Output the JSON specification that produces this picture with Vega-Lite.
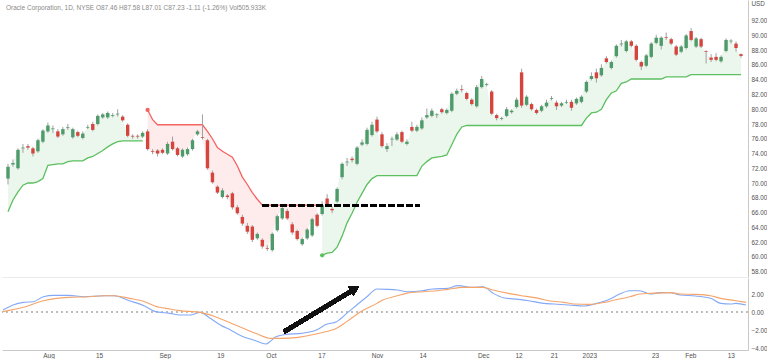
{
  "$schema": "https://vega.github.io/schema/vega-lite/v6.json",
  "padding": 0,
  "background": "white",
  "spacing": 1,
  "resolve": {"scale": {"color": "independent"}},
  "config": {
    "view": {"stroke": null},
    "font": "Liberation Sans",
    "axis": {"labelFont": "Liberation Sans", "labelFontSize": 6.5, "labelColor": "#505050", "grid": false, "ticks": false, "title": null, "domainColor": "#c9c9c9", "labelOverlap": false}
  },
  "datasets": {
    "candles": [
      {"n":1,"o":70.6,"h":72.6,"l":69.8,"c":72.2,"st":66.1,"tr":"up","seg":1},
      {"n":2,"o":72.5,"h":73.2,"l":72.2,"c":72.7,"st":67.7,"tr":"up","seg":1},
      {"n":3,"o":72.0,"h":74.7,"l":71.8,"c":74.5,"st":68.8,"tr":"up","seg":1},
      {"n":4,"o":74.7,"h":75.3,"l":74.1,"c":74.8,"st":69.7,"tr":"up","seg":1},
      {"n":5,"o":75.0,"h":75.3,"l":74.5,"c":74.8,"st":70.0,"tr":"up","seg":1},
      {"n":6,"o":74.7,"h":74.9,"l":73.6,"c":74.0,"st":70.0,"tr":"up","seg":1},
      {"n":7,"o":74.3,"h":76.0,"l":74.1,"c":75.8,"st":70.2,"tr":"up","seg":1},
      {"n":8,"o":75.6,"h":77.3,"l":75.4,"c":77.1,"st":70.6,"tr":"up","seg":1},
      {"n":9,"o":77.0,"h":78.2,"l":76.8,"c":77.8,"st":72.4,"tr":"up","seg":1},
      {"n":10,"o":77.3,"h":77.8,"l":76.8,"c":77.4,"st":72.5,"tr":"up","seg":1},
      {"n":11,"o":77.0,"h":77.3,"l":76.1,"c":76.3,"st":72.6,"tr":"up","seg":1},
      {"n":12,"o":76.6,"h":77.6,"l":76.4,"c":77.3,"st":72.6,"tr":"up","seg":1},
      {"n":13,"o":77.5,"h":78.0,"l":77.2,"c":77.6,"st":72.9,"tr":"up","seg":1},
      {"n":14,"o":76.2,"h":77.5,"l":76.0,"c":77.3,"st":73.0,"tr":"up","seg":1},
      {"n":15,"o":76.9,"h":77.1,"l":76.2,"c":76.4,"st":73.0,"tr":"up","seg":1},
      {"n":16,"o":76.1,"h":77.0,"l":75.9,"c":76.7,"st":73.0,"tr":"up","seg":1},
      {"n":17,"o":77.5,"h":77.9,"l":77.3,"c":77.6,"st":73.4,"tr":"up","seg":1},
      {"n":18,"o":78.0,"h":78.3,"l":77.0,"c":77.2,"st":73.6,"tr":"up","seg":1},
      {"n":19,"o":78.0,"h":79.3,"l":77.8,"c":79.1,"st":74.0,"tr":"up","seg":1},
      {"n":20,"o":78.9,"h":79.5,"l":78.7,"c":79.3,"st":74.4,"tr":"up","seg":1},
      {"n":21,"o":78.9,"h":79.7,"l":78.7,"c":79.5,"st":74.9,"tr":"up","seg":1},
      {"n":22,"o":79.1,"h":79.5,"l":78.9,"c":79.2,"st":75.3,"tr":"up","seg":1},
      {"n":23,"o":79.3,"h":80.0,"l":79.0,"c":79.4,"st":75.6,"tr":"up","seg":1},
      {"n":24,"o":79.0,"h":79.2,"l":78.3,"c":78.5,"st":75.7,"tr":"up","seg":1},
      {"n":25,"o":77.9,"h":78.1,"l":76.2,"c":76.4,"st":75.7,"tr":"up","seg":1},
      {"n":26,"o":76.4,"h":76.6,"l":76.0,"c":76.3,"st":75.7,"tr":"up","seg":1},
      {"n":27,"o":76.4,"h":76.6,"l":76.0,"c":76.3,"st":75.7,"tr":"up","seg":1},
      {"n":28,"o":76.3,"h":77.0,"l":76.1,"c":76.8,"st":75.7,"tr":"up","seg":1},
      {"n":29,"o":77.0,"h":77.3,"l":74.4,"c":74.6,"st":79.9,"tr":"down","seg":2,"start":1},
      {"n":30,"o":74.3,"h":74.6,"l":73.9,"c":74.2,"st":78.6,"tr":"down","seg":2},
      {"n":31,"o":74.4,"h":74.6,"l":73.6,"c":74.0,"st":77.9,"tr":"down","seg":2},
      {"n":32,"o":74.5,"h":74.7,"l":73.9,"c":74.1,"st":77.9,"tr":"down","seg":2},
      {"n":33,"o":74.0,"h":75.6,"l":73.8,"c":75.3,"st":77.9,"tr":"down","seg":2},
      {"n":34,"o":75.6,"h":76.3,"l":74.4,"c":74.6,"st":77.9,"tr":"down","seg":2},
      {"n":35,"o":74.7,"h":74.9,"l":73.6,"c":73.8,"st":77.9,"tr":"down","seg":2},
      {"n":36,"o":73.6,"h":74.7,"l":73.4,"c":74.5,"st":77.9,"tr":"down","seg":2},
      {"n":37,"o":73.9,"h":74.8,"l":73.7,"c":74.6,"st":77.9,"tr":"down","seg":2},
      {"n":38,"o":74.6,"h":76.0,"l":74.4,"c":75.8,"st":77.9,"tr":"down","seg":2},
      {"n":39,"o":76.6,"h":77.2,"l":76.4,"c":77.0,"st":77.9,"tr":"down","seg":2},
      {"n":40,"o":76.2,"h":79.3,"l":75.9,"c":76.1,"st":77.9,"tr":"down","seg":2},
      {"n":41,"o":75.8,"h":76.0,"l":71.8,"c":72.0,"st":77.0,"tr":"down","seg":2},
      {"n":42,"o":71.4,"h":71.7,"l":69.9,"c":70.1,"st":76.0,"tr":"down","seg":2},
      {"n":43,"o":69.5,"h":69.7,"l":68.5,"c":68.7,"st":74.8,"tr":"down","seg":2},
      {"n":44,"o":68.1,"h":69.3,"l":67.9,"c":69.0,"st":74.3,"tr":"down","seg":2},
      {"n":45,"o":68.3,"h":68.5,"l":67.8,"c":68.1,"st":73.9,"tr":"down","seg":2},
      {"n":46,"o":68.6,"h":68.8,"l":66.4,"c":66.7,"st":73.5,"tr":"down","seg":2},
      {"n":47,"o":66.7,"h":67.0,"l":65.7,"c":65.9,"st":72.3,"tr":"down","seg":2},
      {"n":48,"o":65.4,"h":65.7,"l":64.2,"c":64.5,"st":70.8,"tr":"down","seg":2},
      {"n":49,"o":64.2,"h":64.6,"l":63.1,"c":63.4,"st":69.8,"tr":"down","seg":2},
      {"n":50,"o":64.1,"h":64.3,"l":62.0,"c":62.3,"st":68.7,"tr":"down","seg":2},
      {"n":51,"o":62.5,"h":63.3,"l":62.3,"c":63.1,"st":67.8,"tr":"down","seg":2},
      {"n":52,"o":62.3,"h":62.5,"l":61.1,"c":61.4,"st":67.0,"tr":"down","seg":2},
      {"n":53,"o":61.2,"h":61.6,"l":60.8,"c":61.1,"st":67.0,"tr":"down","seg":2},
      {"n":54,"o":60.9,"h":63.3,"l":60.7,"c":63.1,"st":67.0,"tr":"down","seg":2},
      {"n":55,"o":63.6,"h":65.7,"l":63.4,"c":65.5,"st":67.0,"tr":"down","seg":2},
      {"n":56,"o":65.2,"h":66.9,"l":65.0,"c":66.6,"st":67.0,"tr":"down","seg":2},
      {"n":57,"o":66.2,"h":66.5,"l":65.0,"c":65.2,"st":67.0,"tr":"down","seg":2},
      {"n":58,"o":64.4,"h":64.7,"l":63.0,"c":63.3,"st":67.0,"tr":"down","seg":2},
      {"n":59,"o":63.5,"h":63.7,"l":62.2,"c":62.4,"st":67.0,"tr":"down","seg":2},
      {"n":60,"o":61.7,"h":62.6,"l":61.5,"c":62.4,"st":67.0,"tr":"down","seg":2},
      {"n":61,"o":62.5,"h":63.9,"l":62.3,"c":63.7,"st":67.0,"tr":"down","seg":2},
      {"n":62,"o":62.9,"h":65.3,"l":62.7,"c":65.1,"st":67.0,"tr":"down","seg":2},
      {"n":63,"o":65.7,"h":65.9,"l":64.0,"c":64.2,"st":67.0,"tr":"down","seg":2},
      {"n":64,"o":65.8,"h":67.5,"l":65.6,"c":67.0,"st":60.2,"tr":"up","seg":3,"start":1},
      {"n":65,"o":67.9,"h":68.5,"l":66.8,"c":67.0,"st":60.5,"tr":"up","seg":3},
      {"n":66,"o":66.5,"h":66.8,"l":65.9,"c":66.3,"st":60.6,"tr":"up","seg":3},
      {"n":67,"o":67.5,"h":69.4,"l":67.3,"c":69.2,"st":61.3,"tr":"up","seg":3},
      {"n":68,"o":70.8,"h":72.8,"l":70.5,"c":72.6,"st":62.8,"tr":"up","seg":3},
      {"n":69,"o":72.8,"h":73.4,"l":72.3,"c":72.9,"st":64.6,"tr":"up","seg":3},
      {"n":70,"o":73.3,"h":73.6,"l":72.8,"c":73.1,"st":65.9,"tr":"up","seg":3},
      {"n":71,"o":72.6,"h":75.0,"l":72.4,"c":74.8,"st":67.4,"tr":"up","seg":3},
      {"n":72,"o":75.2,"h":75.9,"l":75.0,"c":75.5,"st":68.6,"tr":"up","seg":3},
      {"n":73,"o":75.3,"h":77.5,"l":75.1,"c":77.2,"st":69.8,"tr":"up","seg":3},
      {"n":74,"o":76.5,"h":78.3,"l":76.3,"c":77.9,"st":70.6,"tr":"up","seg":3},
      {"n":75,"o":78.6,"h":79.0,"l":76.8,"c":77.0,"st":71.0,"tr":"up","seg":3},
      {"n":76,"o":76.6,"h":76.9,"l":74.8,"c":75.0,"st":71.0,"tr":"up","seg":3},
      {"n":77,"o":74.6,"h":75.4,"l":74.2,"c":75.0,"st":71.0,"tr":"up","seg":3},
      {"n":78,"o":75.9,"h":76.3,"l":75.0,"c":76.0,"st":71.0,"tr":"up","seg":3},
      {"n":79,"o":75.9,"h":76.9,"l":75.7,"c":76.6,"st":71.0,"tr":"up","seg":3},
      {"n":80,"o":76.9,"h":77.1,"l":75.4,"c":75.6,"st":71.0,"tr":"up","seg":3},
      {"n":81,"o":75.3,"h":75.9,"l":75.1,"c":75.6,"st":71.0,"tr":"up","seg":3},
      {"n":82,"o":77.6,"h":78.3,"l":76.9,"c":77.1,"st":71.0,"tr":"up","seg":3},
      {"n":83,"o":77.1,"h":77.9,"l":76.9,"c":77.6,"st":71.0,"tr":"up","seg":3},
      {"n":84,"o":77.4,"h":78.9,"l":77.2,"c":78.5,"st":72.3,"tr":"up","seg":3},
      {"n":85,"o":78.9,"h":80.1,"l":78.7,"c":79.2,"st":72.9,"tr":"up","seg":3},
      {"n":86,"o":79.1,"h":80.1,"l":78.9,"c":79.8,"st":73.4,"tr":"up","seg":3},
      {"n":87,"o":79.2,"h":79.5,"l":78.8,"c":79.3,"st":73.5,"tr":"up","seg":3},
      {"n":88,"o":80.0,"h":80.2,"l":79.4,"c":79.6,"st":73.6,"tr":"up","seg":3},
      {"n":89,"o":79.5,"h":80.1,"l":79.3,"c":79.9,"st":73.8,"tr":"up","seg":3},
      {"n":90,"o":79.8,"h":82.3,"l":79.6,"c":82.1,"st":75.2,"tr":"up","seg":3},
      {"n":91,"o":82.1,"h":82.8,"l":81.9,"c":82.5,"st":76.6,"tr":"up","seg":3},
      {"n":92,"o":82.7,"h":83.3,"l":82.3,"c":82.6,"st":77.6,"tr":"up","seg":3},
      {"n":93,"o":82.2,"h":82.4,"l":81.2,"c":81.4,"st":77.8,"tr":"up","seg":3},
      {"n":94,"o":81.3,"h":81.5,"l":80.5,"c":80.7,"st":77.8,"tr":"up","seg":3},
      {"n":95,"o":80.4,"h":83.3,"l":80.2,"c":83.0,"st":77.8,"tr":"up","seg":3},
      {"n":96,"o":83.0,"h":84.5,"l":82.8,"c":84.1,"st":77.8,"tr":"up","seg":3},
      {"n":97,"o":83.3,"h":83.6,"l":83.1,"c":83.4,"st":77.8,"tr":"up","seg":3},
      {"n":98,"o":82.4,"h":82.6,"l":79.2,"c":79.4,"st":77.8,"tr":"up","seg":3},
      {"n":99,"o":79.2,"h":79.4,"l":78.5,"c":78.8,"st":77.8,"tr":"up","seg":3},
      {"n":100,"o":78.7,"h":79.0,"l":78.5,"c":78.8,"st":77.8,"tr":"up","seg":3},
      {"n":101,"o":79.1,"h":80.3,"l":78.9,"c":80.0,"st":77.8,"tr":"up","seg":3},
      {"n":102,"o":79.6,"h":80.0,"l":79.4,"c":79.8,"st":77.8,"tr":"up","seg":3},
      {"n":103,"o":80.3,"h":81.6,"l":80.1,"c":81.3,"st":77.8,"tr":"up","seg":3},
      {"n":104,"o":85.0,"h":85.5,"l":80.2,"c":80.5,"st":77.8,"tr":"up","seg":3},
      {"n":105,"o":80.6,"h":81.9,"l":80.4,"c":81.7,"st":77.8,"tr":"up","seg":3},
      {"n":106,"o":80.7,"h":80.9,"l":79.8,"c":80.0,"st":77.8,"tr":"up","seg":3},
      {"n":107,"o":79.9,"h":80.1,"l":79.3,"c":79.5,"st":77.8,"tr":"up","seg":3},
      {"n":108,"o":79.8,"h":80.6,"l":79.6,"c":80.4,"st":77.8,"tr":"up","seg":3},
      {"n":109,"o":80.4,"h":81.3,"l":80.2,"c":80.9,"st":77.8,"tr":"up","seg":3},
      {"n":110,"o":81.4,"h":81.8,"l":81.2,"c":81.5,"st":77.8,"tr":"up","seg":3},
      {"n":111,"o":80.9,"h":81.2,"l":79.9,"c":80.4,"st":77.8,"tr":"up","seg":3},
      {"n":112,"o":80.5,"h":81.0,"l":80.3,"c":80.8,"st":77.8,"tr":"up","seg":3},
      {"n":113,"o":80.9,"h":81.3,"l":80.7,"c":81.0,"st":77.8,"tr":"up","seg":3},
      {"n":114,"o":81.0,"h":81.3,"l":79.8,"c":80.2,"st":77.8,"tr":"up","seg":3},
      {"n":115,"o":80.8,"h":81.6,"l":80.6,"c":81.4,"st":77.8,"tr":"up","seg":3},
      {"n":116,"o":81.0,"h":81.9,"l":80.8,"c":81.7,"st":77.8,"tr":"up","seg":3},
      {"n":117,"o":82.4,"h":83.9,"l":82.2,"c":83.7,"st":78.8,"tr":"up","seg":3},
      {"n":118,"o":84.1,"h":85.0,"l":83.9,"c":84.5,"st":79.5,"tr":"up","seg":3},
      {"n":119,"o":85.0,"h":85.5,"l":83.6,"c":84.2,"st":79.6,"tr":"up","seg":3},
      {"n":120,"o":84.6,"h":86.1,"l":84.4,"c":85.6,"st":80.0,"tr":"up","seg":3},
      {"n":121,"o":86.9,"h":87.2,"l":86.2,"c":86.4,"st":81.3,"tr":"up","seg":3},
      {"n":122,"o":85.6,"h":86.6,"l":85.4,"c":86.4,"st":82.2,"tr":"up","seg":3},
      {"n":123,"o":87.2,"h":88.8,"l":87.0,"c":88.6,"st":82.5,"tr":"up","seg":3},
      {"n":124,"o":88.8,"h":89.4,"l":88.5,"c":88.9,"st":83.5,"tr":"up","seg":3},
      {"n":125,"o":87.9,"h":89.4,"l":87.7,"c":89.2,"st":83.7,"tr":"up","seg":3},
      {"n":126,"o":89.2,"h":89.4,"l":88.4,"c":88.6,"st":84.1,"tr":"up","seg":3},
      {"n":127,"o":88.6,"h":88.8,"l":86.5,"c":86.7,"st":84.1,"tr":"up","seg":3},
      {"n":128,"o":86.4,"h":86.6,"l":85.3,"c":85.8,"st":84.1,"tr":"up","seg":3},
      {"n":129,"o":85.9,"h":87.5,"l":85.7,"c":87.3,"st":84.1,"tr":"up","seg":3},
      {"n":130,"o":87.1,"h":89.1,"l":86.9,"c":88.9,"st":84.1,"tr":"up","seg":3},
      {"n":131,"o":89.0,"h":90.1,"l":88.8,"c":89.7,"st":84.1,"tr":"up","seg":3},
      {"n":132,"o":88.6,"h":89.9,"l":88.1,"c":89.7,"st":84.1,"tr":"up","seg":3},
      {"n":133,"o":89.8,"h":90.4,"l":89.4,"c":89.7,"st":84.4,"tr":"up","seg":3},
      {"n":134,"o":89.5,"h":89.7,"l":88.7,"c":88.9,"st":84.4,"tr":"up","seg":3},
      {"n":135,"o":88.5,"h":88.7,"l":87.2,"c":87.4,"st":84.4,"tr":"up","seg":3},
      {"n":136,"o":87.8,"h":88.7,"l":87.6,"c":88.5,"st":84.4,"tr":"up","seg":3},
      {"n":137,"o":88.3,"h":90.2,"l":88.1,"c":90.0,"st":84.4,"tr":"up","seg":3},
      {"n":138,"o":90.6,"h":91.0,"l":89.2,"c":89.4,"st":84.7,"tr":"up","seg":3},
      {"n":139,"o":88.5,"h":89.8,"l":88.3,"c":89.6,"st":84.7,"tr":"up","seg":3},
      {"n":140,"o":89.5,"h":89.7,"l":88.3,"c":88.5,"st":84.7,"tr":"up","seg":3},
      {"n":141,"o":87.9,"h":88.0,"l":86.2,"c":87.8,"st":84.7,"tr":"up","seg":3},
      {"n":142,"o":87.0,"h":87.5,"l":86.4,"c":86.7,"st":84.7,"tr":"up","seg":3},
      {"n":143,"o":87.1,"h":87.6,"l":86.5,"c":86.7,"st":84.7,"tr":"up","seg":3},
      {"n":144,"o":86.5,"h":87.3,"l":86.3,"c":87.1,"st":84.7,"tr":"up","seg":3},
      {"n":145,"o":87.9,"h":89.6,"l":87.7,"c":89.4,"st":84.7,"tr":"up","seg":3},
      {"n":146,"o":89.2,"h":89.5,"l":88.9,"c":89.3,"st":84.7,"tr":"up","seg":3},
      {"n":147,"o":88.9,"h":89.2,"l":87.8,"c":88.3,"st":84.7,"tr":"up","seg":3},
      {"n":148,"o":87.46,"h":87.58,"l":87.01,"c":87.23,"st":84.7,"tr":"up","seg":3}
    ],
    "macd": [
      {"n":1,"v":0.22,"s":"macd"},{"n":3,"v":0.78,"s":"macd"},{"n":5,"v":1.07,"s":"macd"},{"n":7,"v":1.15,"s":"macd"},
      {"n":9,"v":1.7,"s":"macd"},{"n":11,"v":1.85,"s":"macd"},{"n":14,"v":1.85,"s":"macd"},{"n":17,"v":1.7,"s":"macd"},
      {"n":21,"v":1.81,"s":"macd"},{"n":23,"v":1.81,"s":"macd"},{"n":26,"v":1.26,"s":"macd"},{"n":29,"v":0.67,"s":"macd"},
      {"n":31,"v":0.07,"s":"macd"},{"n":34,"v":-0.15,"s":"macd"},{"n":36,"v":-0.33,"s":"macd"},{"n":38,"v":-0.33,"s":"macd"},
      {"n":40,"v":-0.04,"s":"macd"},{"n":42,"v":-0.7,"s":"macd"},{"n":44,"v":-1.44,"s":"macd"},{"n":46,"v":-2.0,"s":"macd"},
      {"n":48,"v":-2.6,"s":"macd"},{"n":51,"v":-3.2,"s":"macd"},{"n":53,"v":-3.56,"s":"macd"},{"n":54,"v":-3.2,"s":"macd"},
      {"n":55,"v":-2.74,"s":"macd"},{"n":57,"v":-2.48,"s":"macd"},{"n":60,"v":-2.37,"s":"macd"},{"n":63,"v":-2.0,"s":"macd"},
      {"n":65,"v":-1.37,"s":"macd"},{"n":67,"v":-1.07,"s":"macd"},{"n":69,"v":-0.15,"s":"macd"},{"n":71,"v":0.78,"s":"macd"},
      {"n":73,"v":1.7,"s":"macd"},{"n":75,"v":2.56,"s":"macd"},{"n":77,"v":2.52,"s":"macd"},{"n":79,"v":2.44,"s":"macd"},
      {"n":81,"v":2.26,"s":"macd"},{"n":84,"v":2.37,"s":"macd"},{"n":86,"v":2.56,"s":"macd"},{"n":89,"v":2.63,"s":"macd"},
      {"n":91,"v":2.93,"s":"macd"},{"n":94,"v":2.74,"s":"macd"},{"n":96,"v":2.81,"s":"macd"},{"n":98,"v":2.07,"s":"macd"},
      {"n":100,"v":1.59,"s":"macd"},{"n":103,"v":1.41,"s":"macd"},{"n":105,"v":1.26,"s":"macd"},{"n":108,"v":0.96,"s":"macd"},
      {"n":110,"v":0.89,"s":"macd"},{"n":113,"v":0.78,"s":"macd"},{"n":116,"v":0.67,"s":"macd"},{"n":118,"v":0.89,"s":"macd"},
      {"n":121,"v":1.41,"s":"macd"},{"n":123,"v":2.0,"s":"macd"},{"n":125,"v":2.37,"s":"macd"},{"n":127,"v":2.37,"s":"macd"},
      {"n":129,"v":2.0,"s":"macd"},{"n":131,"v":2.15,"s":"macd"},{"n":133,"v":2.15,"s":"macd"},{"n":135,"v":1.89,"s":"macd"},
      {"n":138,"v":1.78,"s":"macd"},{"n":141,"v":1.52,"s":"macd"},{"n":143,"v":0.96,"s":"macd"},{"n":145,"v":0.89,"s":"macd"},
      {"n":146,"v":0.96,"s":"macd"},{"n":148,"v":0.78,"s":"macd"},
      {"n":1,"v":0.04,"s":"signal"},{"n":5,"v":0.52,"s":"signal"},{"n":9,"v":1.26,"s":"signal"},{"n":14,"v":1.63,"s":"signal"},
      {"n":18,"v":1.7,"s":"signal"},{"n":21,"v":1.81,"s":"signal"},{"n":23,"v":1.81,"s":"signal"},{"n":26,"v":1.52,"s":"signal"},
      {"n":29,"v":1.15,"s":"signal"},{"n":31,"v":0.67,"s":"signal"},{"n":34,"v":0.33,"s":"signal"},{"n":36,"v":0.15,"s":"signal"},
      {"n":40,"v":-0.04,"s":"signal"},{"n":43,"v":-0.52,"s":"signal"},{"n":47,"v":-1.44,"s":"signal"},{"n":51,"v":-2.37,"s":"signal"},
      {"n":54,"v":-2.93,"s":"signal"},{"n":56,"v":-2.93,"s":"signal"},{"n":59,"v":-2.85,"s":"signal"},{"n":61,"v":-2.67,"s":"signal"},
      {"n":64,"v":-2.3,"s":"signal"},{"n":67,"v":-1.81,"s":"signal"},{"n":69,"v":-1.07,"s":"signal"},{"n":72,"v":0.11,"s":"signal"},
      {"n":75,"v":0.96,"s":"signal"},{"n":76,"v":1.3,"s":"signal"},{"n":79,"v":1.8,"s":"signal"},{"n":81,"v":2.1,"s":"signal"},
      {"n":84,"v":2.26,"s":"signal"},{"n":87,"v":2.37,"s":"signal"},{"n":89,"v":2.52,"s":"signal"},{"n":92,"v":2.74,"s":"signal"},
      {"n":96,"v":2.74,"s":"signal"},{"n":98,"v":2.44,"s":"signal"},{"n":101,"v":2.07,"s":"signal"},{"n":104,"v":1.78,"s":"signal"},
      {"n":107,"v":1.52,"s":"signal"},{"n":109,"v":1.26,"s":"signal"},{"n":112,"v":1.07,"s":"signal"},{"n":114,"v":0.89,"s":"signal"},
      {"n":117,"v":0.85,"s":"signal"},{"n":120,"v":1.07,"s":"signal"},{"n":122,"v":1.33,"s":"signal"},{"n":125,"v":1.7,"s":"signal"},
      {"n":127,"v":2.0,"s":"signal"},{"n":129,"v":2.07,"s":"signal"},{"n":133,"v":2.15,"s":"signal"},{"n":135,"v":2.0,"s":"signal"},
      {"n":138,"v":1.96,"s":"signal"},{"n":141,"v":1.81,"s":"signal"},{"n":143,"v":1.52,"s":"signal"},{"n":146,"v":1.26,"s":"signal"},
      {"n":148,"v":1.07,"s":"signal"}
    ]
  },
  "vconcat": [
    {
      "width": 746,
      "height": 277,
      "title": {"text": "Oracle Corporation, 1D, NYSE  O87.46 H87.58 L87.01 C87.23 -1.11 (-1.26%) Vol505.933K", "anchor": "start", "fontSize": 6.5, "fontWeight": "normal", "color": "#8a8a8a", "font": "Liberation Sans", "offset": -11, "dx": 4},
      "data": {"name": "candles"},
      "layer": [
        {
          "mark": {"type": "area", "opacity": 0.12, "interpolate": "linear"},
          "encoding": {
            "x": {"field": "n", "type": "quantitative", "scale": {"domain": [0.8, 148.4], "nice": false, "zero": false}, "axis": {"labels": false, "domainColor": "#ececec"}},
            "y": {"field": "st", "type": "quantitative", "scale": {"domain": [57.26, 94.81], "nice": false, "zero": false}, "axis": {"orient": "right", "values": [58,60,62,64,66,68,70,72,74,76,78,80,82,84,86,88,90,92,94.4], "tickCount": 100, "labelExpr": "datum.value > 93 ? 'USD' : format(datum.value, '.2f')", "labelPadding": 3, "labelOverlap": false, "labelBound": false, "labelFontSize": 6.3}},
            "y2": {"field": "c"},
            "detail": {"field": "seg"},
            "color": {"field": "tr", "type": "nominal", "scale": {"domain": ["up", "down"], "range": ["#5cbf60", "#f56262"]}, "legend": null}
          }
        },
        {
          "mark": {"type": "line", "strokeWidth": 1.3},
          "encoding": {
            "x": {"field": "n", "type": "quantitative"},
            "y": {"field": "st", "type": "quantitative"},
            "detail": {"field": "seg"},
            "color": {"field": "tr", "type": "nominal", "legend": null}
          }
        },
        {
          "transform": [{"filter": "datum.start == 1"}],
          "mark": {"type": "point", "filled": true, "size": 18, "opacity": 1},
          "encoding": {
            "x": {"field": "n", "type": "quantitative"},
            "y": {"field": "st", "type": "quantitative"},
            "color": {"field": "tr", "type": "nominal", "legend": null}
          }
        },
        {
          "mark": {"type": "rule", "color": "#a0a0a0", "strokeWidth": 1},
          "encoding": {
            "x": {"field": "n", "type": "quantitative"},
            "y": {"field": "l", "type": "quantitative"},
            "y2": {"field": "h"}
          }
        },
        {
          "mark": {"type": "bar", "width": 3.4},
          "encoding": {
            "x": {"field": "n", "type": "quantitative"},
            "y": {"field": "o", "type": "quantitative"},
            "y2": {"field": "c"},
            "color": {"condition": {"test": "datum.c >= datum.o", "value": "#4e9a6a"}, "value": "#d5453e"}
          }
        },
        {
          "mark": {"type": "rule", "color": "#000000", "strokeWidth": 2, "strokeDash": [6, 3]},
          "encoding": {
            "x": {"datum": 52},
            "x2": {"datum": 83.5},
            "y": {"datum": 67.0}
          }
        }
      ]
    },
    {
      "width": 746,
      "height": 72,
      "data": {"name": "macd"},
      "layer": [
        {
          "mark": {"type": "rule", "color": "#bdbdbd", "strokeDash": [2, 3], "strokeWidth": 1},
          "encoding": {"y": {"datum": 0, "type": "quantitative"}}
        },
        {
          "mark": {"type": "line", "strokeWidth": 1.1, "interpolate": "monotone"},
          "encoding": {
            "x": {"field": "n", "type": "quantitative", "scale": {"domain": [0.8, 148.4], "nice": false, "zero": false},
                  "axis": {"values": [10,20,33,44,54,64,75,84,96,103,110,117,130,137,145], "tickCount": 100, "labelExpr": "{'10':'Aug','20':'15','33':'Sep','44':'19','54':'Oct','64':'17','75':'Nov','84':'14','96':'Dec','103':'12','110':'21','117':'2023','130':'23','137':'Feb','145':'13'}[datum.value]", "labelPadding": 2, "labelFlush": false, "labelOverlap": false}},
            "y": {"field": "v", "type": "quantitative", "scale": {"domain": [-4.22, 3.78], "nice": false, "zero": false},
                  "axis": {"orient": "right", "values": [-4, -2, 0, 2], "tickCount": 100, "format": ".2f", "labelPadding": 3, "labelOverlap": false, "labelBound": false, "labelFontSize": 6.3}},
            "color": {"field": "s", "type": "nominal", "scale": {"domain": ["macd", "signal"], "range": ["#84a9f6", "#f5a46a"]}, "legend": null}
          }
        },
        {
          "mark": {"type": "rule", "color": "#111111", "strokeWidth": 4},
          "encoding": {
            "x": {"datum": 56.6},
            "y": {"datum": -2.2},
            "x2": {"datum": 70.0},
            "y2": {"datum": 2.35}
          }
        },
        {
          "mark": {"type": "point", "shape": "triangle-right", "filled": true, "size": 110, "color": "#111111", "opacity": 1, "angle": 328},
          "encoding": {
            "x": {"datum": 70.6},
            "y": {"datum": 2.6}
          }
        }
      ]
    }
  ]
}
